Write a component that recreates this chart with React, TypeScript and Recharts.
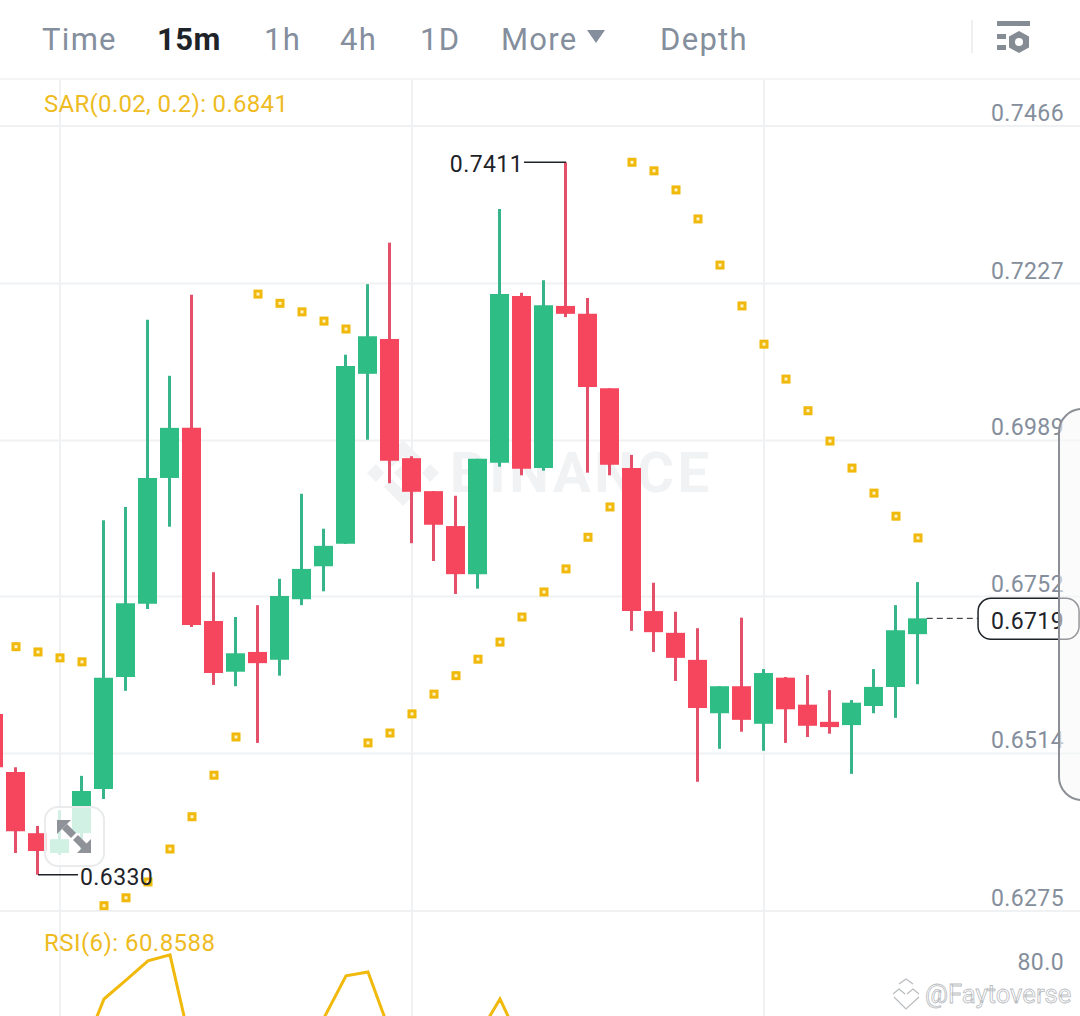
import { ComposedChart, Bar, Line, Cell, XAxis, YAxis, CartesianGrid, ReferenceLine, ReferenceDot } from 'recharts';

const opens = [0.6574, 0.6486, 0.6393, 0.6363, 0.6393, 0.646, 0.663, 0.6741, 0.6932, 0.7008, 0.6715, 0.6638, 0.6668, 0.6656, 0.6748, 0.6798, 0.6832, 0.709, 0.7143, 0.6962, 0.6912, 0.6859, 0.6786, 0.6955, 0.7208, 0.6947, 0.7193, 0.7181, 0.7068, 0.6947, 0.673, 0.6697, 0.6656, 0.6575, 0.6616, 0.6559, 0.6629, 0.6588, 0.6562, 0.6557, 0.6586, 0.6615, 0.6695];
const closes = [0.6493, 0.6396, 0.6366, 0.6384, 0.6457, 0.6629, 0.6742, 0.6932, 0.7008, 0.6709, 0.6636, 0.6666, 0.6651, 0.6753, 0.6794, 0.6829, 0.7102, 0.7147, 0.6958, 0.6911, 0.6861, 0.6786, 0.6961, 0.7211, 0.6946, 0.7194, 0.7181, 0.707, 0.6952, 0.673, 0.6698, 0.6659, 0.6583, 0.6616, 0.6565, 0.6636, 0.6581, 0.6556, 0.6554, 0.6591, 0.6615, 0.6701, 0.6719];
const highs = [0.659, 0.6493, 0.6404, 0.6428, 0.648, 0.6868, 0.6888, 0.7172, 0.7087, 0.721, 0.6789, 0.6721, 0.6739, 0.6779, 0.6908, 0.6855, 0.7119, 0.7226, 0.7289, 0.6965, 0.6912, 0.6905, 0.6961, 0.734, 0.7213, 0.7232, 0.7411, 0.7205, 0.7068, 0.6967, 0.6773, 0.6729, 0.6704, 0.6616, 0.672, 0.6642, 0.663, 0.6633, 0.661, 0.6595, 0.6642, 0.6739, 0.6774];
const lows = [0.648, 0.6363, 0.633, 0.636, 0.6365, 0.6445, 0.6609, 0.6733, 0.6858, 0.6706, 0.6618, 0.6616, 0.653, 0.6632, 0.6739, 0.676, 0.6832, 0.699, 0.6924, 0.6833, 0.6806, 0.6756, 0.6764, 0.6949, 0.6936, 0.6943, 0.7176, 0.694, 0.6936, 0.67, 0.6668, 0.6624, 0.6471, 0.6521, 0.6547, 0.6518, 0.653, 0.6539, 0.6544, 0.6483, 0.6575, 0.6568, 0.6619];
const sar = [null, 0.6676, 0.6668, 0.6659, 0.6653, 0.6283, 0.6295, 0.6319, 0.6369, 0.6418, 0.6481, 0.6539, 0.7211, 0.7197, 0.7184, 0.717, 0.7158, 0.653, 0.6545, 0.6574, 0.6604, 0.6632, 0.6657, 0.6683, 0.6721, 0.6759, 0.6794, 0.6842, 0.6888, 0.7411, 0.7398, 0.7369, 0.7325, 0.7255, 0.7193, 0.7135, 0.7082, 0.7034, 0.6988, 0.6947, 0.6909, 0.6874, 0.6841];
const rsi = [38, 32, 28, 33, 53.7, 72, 78.3, 84.7, 86.7, 54.7, 47, 48.5, 48, 55, 58, 65.7, 79.7, 81, 61, 55, 50, 46, 59.7, 72, 56.3, 63, 60, 50, 44, 33, 31, 29, 27, 33, 31, 38, 36, 33, 32, 40, 46, 58, 60.8588];

const priceTicks = [0.7466, 0.7227, 0.6989, 0.6752, 0.6514, 0.6275];
const rsiTicks = [80];
const gridCandles = [3, 19, 35];
const tabs = ['Time', '15m', '1h', '4h', '1D', 'More', 'Depth'];
const tabLeft = [42, 157, 264, 340, 420, 501, 660];

const rows = opens.map((open, i) => ({
  i,
  open,
  close: closes[i],
  high: highs[i],
  low: lows[i],
  sar: sar[i],
  rsi: rsi[i],
}));

const UP = '#2ebd85';
const DOWN = '#f6465d';
const UP_WICK = '#38b48a';
const DOWN_WICK = '#e4506a';
const GOLD = '#f0b90b';
const GREY = '#848e9c';
const DARK = '#1e2329';
const GRID = '#f0f1f3';
const FONT = 'Roboto, sans-serif';
const X_DOMAIN = [-1, 50];
// plot is 1122 wide, the extra pixel is the y axis (recharts skips an axis of width 0)
const CHART_W = 1123;
const LABEL_RIGHT = 1092;

function AxisTick({ y, payload, digits }: any) {
  return (
    <text x={LABEL_RIGHT} y={y - 5} textAnchor="end" fontFamily={FONT} fontSize={23} fill={GREY} letterSpacing={0.4}>
      {payload.value.toFixed(digits)}
    </text>
  );
}

function SarDot({ cx, cy, index }: any) {
  if (cy == null || isNaN(cy)) return <g key={index} />;
  return (
    <g key={index}>
      <rect x={cx - 4.5} y={cy - 4.5} width={9} height={9} fill={GOLD} />
      <rect x={cx - 1.5} y={cy - 1.5} width={3} height={3} fill="#fdf3c8" />
    </g>
  );
}

function LastPrice({ cx, cy }: any) {
  return (
    <g>
      <rect x={cx} y={cy - 20} width={101} height={41} rx={13} fill="#fff" stroke={DARK} strokeWidth={1.5} />
      <text x={LABEL_RIGHT} y={cy + 11} textAnchor="end" fontFamily={FONT} fontSize={23} fill={DARK} letterSpacing={0.4}>
        0.6719
      </text>
    </g>
  );
}

function Toolbar() {
  return (
    <div style={{ position: 'absolute', left: 0, top: 0, width: 1080, height: 80, borderBottom: '2px solid #f3f4f5', boxSizing: 'border-box' }}>
      {tabs.map((t, i) => (
        <span
          key={t}
          style={{
            position: 'absolute',
            left: tabLeft[i],
            top: 21,
            fontFamily: FONT,
            fontSize: 31,
            lineHeight: '38px',
            letterSpacing: t === '15m' ? 0.5 : 1.3,
            fontWeight: t === '15m' ? 700 : 400,
            color: t === '15m' ? DARK : GREY,
          }}
        >
          {t}
        </span>
      ))}
      <svg width={1080} height={80} style={{ position: 'absolute', left: 0, top: 0 }}>
        <polygon points="587,30 605,30 596,43" fill={GREY} />
        <rect x={971} y={20} width={2} height={33} fill="#eeeff1" />
        <rect x={997} y={21} width={33} height={5} fill="#868c94" />
        <rect x={997} y={34} width={9} height={5} fill="#868c94" />
        <rect x={997} y={45} width={9} height={5} fill="#868c94" />
        <polygon points="1019,31 1029,36.5 1029,47.5 1019,53 1009,47.5 1009,36.5" fill="#868c94" />
        <circle cx={1019} cy={42} r={4} fill="#fff" />
      </svg>
    </div>
  );
}

function Watermark() {
  return (
    <>
      <svg width={80} height={80} style={{ position: 'absolute', left: 364, top: 434 }} fill="#f1f2f3">
        <polygon points="12,30 20,39 12,48 3,39" />
        <polygon points="66,30 75,39 66,48 58,39" />
        <polygon points="39,6 58,25 50,33 39,22 28,33 20,25" />
        <polygon points="39,72 58,53 50,45 39,56 28,45 20,53" />
        <polygon points="39,30 48,39 39,48 30,39" />
      </svg>
      <div style={{ position: 'absolute', left: 450, top: 440, fontFamily: FONT, fontWeight: 700, fontSize: 56, lineHeight: '66px', letterSpacing: 3.6, color: '#f1f2f3' }}>
        BINANCE
      </div>
    </>
  );
}

function ExpandButton() {
  return (
    <svg width={64} height={64} style={{ position: 'absolute', left: 43, top: 805 }}>
      <rect x={2} y={2} width={59} height={59} rx={13} fill="#ffffff" fillOpacity={0.78} stroke="#e9ebed" strokeWidth={2} />
      <polygon points="14,15 28,15 14,29" fill="#8f9399" />
      <polygon points="24,19 33,28 28,33 19,24" fill="#8f9399" />
      <polygon points="48,48 34,48 48,34" fill="#8f9399" />
      <polygon points="39,44 30,35 35,30 44,39" fill="#8f9399" />
    </svg>
  );
}

export default function App() {
  return (
    <div style={{ position: 'absolute', left: 0, top: 0, width: 1080, height: 1016, overflow: 'hidden', background: '#fff' }}>
      <Watermark />
      <Toolbar />
      <div style={{ position: 'absolute', left: -28, top: 80 }}>
        <ComposedChart width={CHART_W} height={840} data={rows} margin={{ top: 0, right: 0, bottom: 0, left: 0 }}>
          <XAxis xAxisId="body" dataKey="i" type="number" domain={X_DOMAIN} allowDataOverflow hide />
          <XAxis xAxisId="wick" dataKey="i" type="number" domain={X_DOMAIN} allowDataOverflow hide />
          <YAxis
            orientation="right"
            width={1}
            domain={[0.62613, 0.75358]}
            allowDataOverflow
            ticks={priceTicks}
            axisLine={false}
            tickLine={false}
            interval={0}
            tick={<AxisTick digits={4} />}
          />
          <CartesianGrid xAxisId="body" horizontalValues={priceTicks} verticalValues={gridCandles} stroke={GRID} strokeWidth={2} />
          <Bar xAxisId="wick" dataKey={(d: any) => [d.low, d.high]} barSize={3} isAnimationActive={false}>
            {rows.map((d) => (
              <Cell key={d.i} fill={d.close >= d.open ? UP_WICK : DOWN_WICK} />
            ))}
          </Bar>
          <Bar xAxisId="body" dataKey={(d: any) => [Math.min(d.open, d.close), Math.max(d.open, d.close)]} barSize={19} isAnimationActive={false}>
            {rows.map((d) => (
              <Cell key={d.i} fill={d.close >= d.open ? UP : DOWN} />
            ))}
          </Bar>
          <Line xAxisId="body" dataKey="sar" stroke="none" dot={<SarDot />} activeDot={false} legendType="none" isAnimationActive={false} />
          <ReferenceLine xAxisId="body" segment={[{ x: 26, y: 0.7411 }, { x: 24.09, y: 0.7411 }]} stroke={DARK} strokeWidth={1.5} />
          <ReferenceDot xAxisId="body" x={24.09} y={0.7411} r={0} stroke="none" label={{ value: '0.7411', position: 'left', offset: 1, dy: 2, fontFamily: FONT, fontSize: 23, fill: DARK, letterSpacing: 0.4 }} />
          <ReferenceLine xAxisId="body" segment={[{ x: 2, y: 0.633 }, { x: 3.82, y: 0.633 }]} stroke={DARK} strokeWidth={1.5} />
          <ReferenceDot xAxisId="body" x={3.82} y={0.633} r={0} stroke="none" label={{ value: '0.6330', position: 'right', offset: 2, dy: 2, fontFamily: FONT, fontSize: 23, fill: DARK, letterSpacing: 0.4 }} />
          <ReferenceLine xAxisId="body" segment={[{ x: 42.4, y: 0.6719 }, { x: 44.73, y: 0.6719 }]} stroke={DARK} strokeWidth={1} strokeDasharray="6 4" />
          <ReferenceDot xAxisId="body" x={44.73} y={0.6719} shape={<LastPrice />} />
        </ComposedChart>
      </div>
      <div style={{ position: 'absolute', left: -28, top: 911 }}>
        <ComposedChart width={CHART_W} height={105} data={rows} margin={{ top: 0, right: 0, bottom: 0, left: 0 }}>
          <XAxis dataKey="i" type="number" domain={X_DOMAIN} allowDataOverflow hide />
          <YAxis
            orientation="right"
            width={1}
            domain={[66.33, 101.33]}
            allowDataOverflow
            ticks={rsiTicks}
            axisLine={false}
            tickLine={false}
            tick={<AxisTick digits={1} />}
          />
          <CartesianGrid horizontal={false} verticalValues={gridCandles} stroke={GRID} strokeWidth={2} />
          <Line dataKey="rsi" stroke={GOLD} strokeWidth={3} dot={false} activeDot={false} isAnimationActive={false} />
        </ComposedChart>
      </div>
      <div style={{ position: 'absolute', left: 44, top: 89, fontFamily: FONT, fontSize: 24, lineHeight: '30px', color: '#eebb22', letterSpacing: 0.3 }}>
        SAR(0.02, 0.2): 0.6841
      </div>
      <div style={{ position: 'absolute', left: 44, top: 928, fontFamily: FONT, fontSize: 24, lineHeight: '30px', color: '#eebb22', letterSpacing: 0.45 }}>
        RSI(6): 60.8588
      </div>
      <ExpandButton />
      <div style={{ position: 'absolute', left: 1058, top: 408, width: 60, height: 393, boxSizing: 'border-box', border: '2px solid #8c9096', borderRadius: 24, background: 'rgba(248,248,248,0.55)' }} />
      <svg width={190} height={40} style={{ position: 'absolute', left: 890, top: 976 }}>
        <g fill="none" stroke="#b9bcbf" strokeWidth={1.2}>
          <polyline points="3,18 9,13 15,18" />
          <polyline points="9,8 16,3 23,8 " />
          <polyline points="17,18 23,13 29,18" />
          <polyline points="4,21 16,33 29,21" />
        </g>
        <text x={35} y={27} fontFamily={FONT} fontSize={25.6} fill="#ffffff" stroke="#b9bcbf" strokeWidth={0.8}>
          @Faytoverse
        </text>
      </svg>
    </div>
  );
}
